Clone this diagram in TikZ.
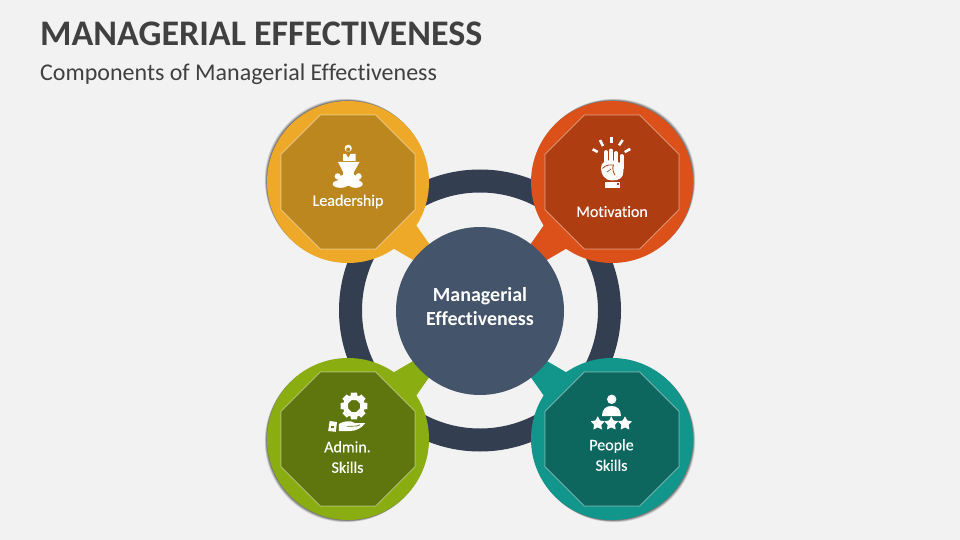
\documentclass[tikz,border=0pt]{standalone}
\usepackage{fontspec}
\setmainfont{Carlito}[RawFeature={-liga;-clig;-dlig}]
\newfontfamily\lblfont{Carlito}[RawFeature={-liga;-clig;-dlig},FakeBold=0.35]
\usetikzlibrary{shapes.geometric,calc}
\definecolor{bg}{HTML}{F2F2F2}
\definecolor{ringc}{HTML}{333F50}
\definecolor{hubc}{HTML}{44546A}
\definecolor{titlec}{HTML}{404040}
\definecolor{yelA}{HTML}{EFA928}\definecolor{yelB}{HTML}{BC871E}
\definecolor{redA}{HTML}{DC5119}\definecolor{redB}{HTML}{AE3D12}
\definecolor{grnA}{HTML}{8AAD11}\definecolor{grnB}{HTML}{5E760D}
\definecolor{tealA}{HTML}{12958A}\definecolor{tealB}{HTML}{0D675F}
\tikzset{
  disc/.style={circle,minimum size=162pt,inner sep=0pt,outer sep=0pt,fill=#1},
  octa/.style={regular polygon,regular polygon sides=8,minimum size=145pt,inner sep=0pt,outer sep=0pt,fill=#1,draw=white,draw opacity=.5,line width=.7pt},
  lbl/.style={text=white,font=\lblfont\fontsize{16}{20.5}\selectfont,align=center,inner sep=0pt},
  glyph/.style={fill=white,draw=none},
  ray/.style={draw=white,line width=2.6pt},
  startip/.style={star,star points=5,star point ratio=2.0,minimum size=15pt,inner sep=0pt,fill=white,rounded corners=.6pt}
}
\newcommand{\neckat}[4]{\fill[#4] ($(#1)+(#2*60,#3*31)$) -- ($(#1)+(#2*68.7,#3*44)$) -- ($(#1)+(#2*89,#3*73)$) -- ($(#1)+(#2*72,#3*82)$) -- ($(#1)+(#2*46.3,#3*67)$) -- ($(#1)+(#2*36,#3*61)$) -- cycle;}
\newcommand{\shadowat}[3]{\foreach \k/\o in {3.2/.10,2.4/.14,1.6/.18,.8/.22}{\fill[black,opacity=\o] ($(#1)+(#2*\k,#3*\k)$) circle[radius=81];}}
\begin{document}
\begin{tikzpicture}[x=1pt,y=-1pt]
\useasboundingbox (0,0) rectangle (960,540);
\fill[bg] (0,0) rectangle (960,540);
\node[anchor=base west,inner sep=0pt,text=titlec,font=\fontsize{36}{40}\selectfont\bfseries] (title) at (40,46) {MANAGERIAL EFFECTIVENESS};
\node[anchor=base west,inner sep=0pt,text=titlec,font=\fontsize{24}{28}\selectfont] (subtitle) at (40,81) {Components of Managerial Effectiveness};
\coordinate (lead) at (348,182);
\coordinate (moti) at (612,182);
\coordinate (admin) at (348,439);
\coordinate (people) at (612,439);
\node[circle,draw=ringc,line width=23pt,minimum size=259pt,inner sep=0pt,outer sep=0pt] (ring) at (480,310.5) {};
\shadowat{lead}{-.7}{-.7}
\shadowat{moti}{.7}{-.7}
\shadowat{admin}{-.7}{.7}
\shadowat{people}{.7}{.7}
\neckat{lead}{1}{1}{yelA}
\neckat{moti}{-1}{1}{redA}
\neckat{admin}{1}{-1}{grnA}
\neckat{people}{-1}{-1}{tealA}
\node[circle,fill=hubc,minimum size=168pt,inner sep=0pt,outer sep=0pt] (hub) at (480,311) {};
\node[lbl,font=\fontsize{20}{24}\selectfont\bfseries] (hubtext) at (480,306.5) {Managerial\\Effectiveness};
\node[disc=yelA] (leadD) at (lead) {};
\node[disc=redA] (motiD) at (moti) {};
\node[disc=grnA] (adminD) at (admin) {};
\node[disc=tealA] (peopleD) at (people) {};
\node[octa=yelB] (leadO) at (lead) {};
\node[octa=redB] (motiO) at (moti) {};
\node[octa=grnB] (adminO) at (admin) {};
\node[octa=tealB] (peopleO) at (people) {};
\node[lbl] (leadT) at (348,201.5) {Leadership};
\node[lbl] (motiT) at (612,211.5) {Motivation};
\node[lbl] (adminT) at (347.5,457) {Admin.\\Skills};
\node[lbl] (peopleT) at (611.5,455) {People\\Skills};
% Leadership icon
\fill[glyph] (348.2,148.3) circle[radius=3.6];
\fill[yelB] (348.2,149.6) circle[radius=2.1];
\fill[glyph] (343,154) -- (346,154) -- (348.2,158) -- (350.5,154) -- (355.7,154) -- (355.7,161) -- (343,161) -- cycle;
\fill[glyph] (338,162) -- (359.5,162) -- (354,172) -- (343,172) -- cycle;
\fill[glyph] (343,170) rectangle (354,180);
\fill[glyph] (348.5,180) ellipse[x radius=11,y radius=6];
\fill[glyph] (337.7,176.3) circle[radius=3.1];
\fill[glyph] (358.6,176.3) circle[radius=3.1];
\fill[glyph] (340.5,184) ellipse[x radius=7.8,y radius=3.8];
\fill[glyph] (355.7,184) ellipse[x radius=7,y radius=3.8];
% Motivation icon
\draw[ray] (611.3,136.7) -- (611.3,143.3);
\draw[ray] (600,140) -- (603,146);
\draw[ray] (622.7,140) -- (619,145.3);
\draw[ray] (592.7,149.3) -- (597.7,152);
\draw[ray] (630.3,149) -- (624.7,152);
\draw[white,line width=3.8pt,line cap=round] (606,152) -- (606,165);
\draw[white,line width=3.8pt,line cap=round] (611,150.5) -- (611,165);
\draw[white,line width=3.8pt,line cap=round] (616,153) -- (616,165);
\draw[white,line width=3.8pt,line cap=round] (621.7,156) -- (621.7,168);
\fill[glyph] (601,168) .. controls (601,162) and (606,160) .. (612,160) -- (623.3,164) -- (623.3,172) .. controls (623.3,178) and (619,180.5) .. (612,180.5) .. controls (605,180.5) and (601,175) .. (601,168) -- cycle;
\draw[redB,line width=.8pt] (602.5,168.5) .. controls (606,164) and (611,165) .. (613.5,165) .. controls (612,168) and (613,172) .. (615,175);
\draw[redB,line width=.6pt] (607,172) -- (611,169);
\fill[glyph] (605,182.3) rectangle (620,187.7);
\fill[redB] (617.3,183.2) rectangle (618.6,184.6);
% Admin icon
\foreach \a in {0,45,...,315}{\fill[glyph,rotate around={\a:(354,406)}] (351,392.6) -- (357,392.6) -- (358,400) -- (350,400) -- cycle;}
\fill[glyph,even odd rule] (354,406) circle[radius=11] (354,406) circle[radius=6.6];
\fill[glyph] (329.6,421) -- (337,422) -- (335.8,431.8) -- (328.2,431) -- cycle;
\fill[grnB] (331.4,426) rectangle (333.6,428.4);
\fill[glyph] (338.8,424) .. controls (344,421) and (350,420) .. (355,423) -- (365,423.2) .. controls (362,428) and (356,431) .. (350,431) -- (338.8,431) -- cycle;
\draw[grnB,line width=.7pt] (347,426.4) -- (357,426) -- (360,424.8);
% People icon
\fill[glyph] (611.7,399.3) circle[radius=4.7];
\fill[glyph] (602,416) .. controls (602,409) and (606,406) .. (611.5,406) .. controls (617,406) and (621,409) .. (621,416) -- cycle;
\node[startip] (s1) at (597.7,423.6) {};
\node[startip] (s2) at (611.3,423.6) {};
\node[startip] (s3) at (625,423.6) {};
\end{tikzpicture}
\end{document}
